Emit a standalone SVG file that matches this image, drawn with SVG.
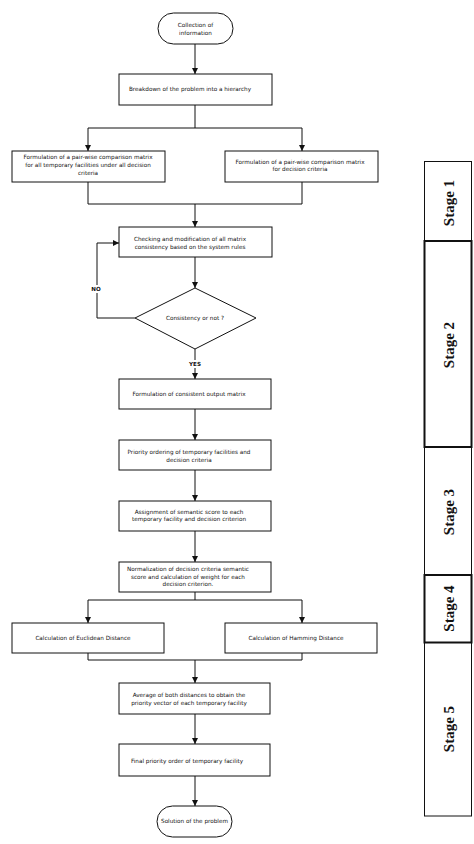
<svg xmlns="http://www.w3.org/2000/svg" width="474" height="844" viewBox="0 0 474 844">
<style>
.n{fill:#fff;stroke:#111;stroke-width:1}
.t{font-family:"DejaVu Sans",Verdana,sans-serif;font-size:5.7px;fill:#111;text-anchor:middle}
.lb{font-family:"DejaVu Sans",Verdana,sans-serif;font-size:5.6px;font-weight:bold;fill:#111;text-anchor:middle}
.c{fill:none;stroke:#111;stroke-width:1}
.s{fill:#fff;stroke:#111;stroke-width:1}
.sb{fill:#fff;stroke:#111;stroke-width:2}
.st{font-family:"Liberation Serif","Times New Roman",serif;font-size:15px;font-weight:bold;fill:#111;text-anchor:middle}
</style>
<defs>
<marker id="ah" markerUnits="userSpaceOnUse" markerWidth="7" markerHeight="6" refX="6" refY="3" orient="auto">
<path d="M0,0 L6,3 L0,6 z" fill="#111"/>
</marker>
</defs>
<rect width="474" height="844" fill="#fff"/>
<g id="connectors">
<path class="c" d="M195,44 V74" marker-end="url(#ah)"/>
<path class="c" d="M195,105 V128 M88,128 H302"/>
<path class="c" d="M88,128 V151" marker-end="url(#ah)"/>
<path class="c" d="M302,128 V151" marker-end="url(#ah)"/>
<path class="c" d="M88,182 V204 H302 V182"/>
<path class="c" d="M195,204 V227" marker-end="url(#ah)"/>
<path class="c" d="M195,257 V288" marker-end="url(#ah)"/>
<path class="c" d="M135,318 H97 V243 H119" marker-end="url(#ah)"/>
<path class="c" d="M195,349 V379" marker-end="url(#ah)"/>
<path class="c" d="M195,409 V440" marker-end="url(#ah)"/>
<path class="c" d="M195,470 V501" marker-end="url(#ah)"/>
<path class="c" d="M195,531 V562" marker-end="url(#ah)"/>
<path class="c" d="M195,592 V600 M88,600 H302"/>
<path class="c" d="M88,600 V623" marker-end="url(#ah)"/>
<path class="c" d="M302,600 V623" marker-end="url(#ah)"/>
<path class="c" d="M88,653 V660 H302 V653"/>
<path class="c" d="M195,660 V683" marker-end="url(#ah)"/>
<path class="c" d="M195,714 V744" marker-end="url(#ah)"/>
<path class="c" d="M195,776 V806" marker-end="url(#ah)"/>
<rect x="89" y="285" width="16" height="8" fill="#fff"/>
<text class="lb" x="96" y="291">NO</text>
<rect x="186" y="360" width="18" height="8" fill="#fff"/>
<text class="lb" x="195" y="366">YES</text>
</g>
<g id="n1"><rect class="n" x="158" y="13" width="75" height="31" rx="15.5"/>
<text class="t" x="195.5" y="27">Collection of</text><text class="t" x="195.5" y="35">information</text></g>
<g id="n2"><rect class="n" x="119" y="74" width="153" height="31"/>
<text class="t" x="190" y="91">Breakdown of the problem into a hierarchy</text></g>
<g id="n3"><rect class="n" x="12" y="151" width="153" height="31"/>
<text class="t" x="88" y="159">Formulation of a pair-wise comparison matrix</text>
<text class="t" x="88" y="167">for all temporary facilities under all decision</text>
<text class="t" x="88" y="174.5">criteria</text></g>
<g id="n4"><rect class="n" x="225" y="151" width="153" height="31"/>
<text class="t" x="300" y="163.5">Formulation of a pair-wise comparison matrix</text>
<text class="t" x="300" y="171">for decision criteria</text></g>
<g id="n5"><rect class="n" x="119" y="227" width="153" height="30"/>
<text class="t" x="190" y="240.5">Checking and modification of all matrix</text>
<text class="t" x="190" y="248.5">consistency based on the system rules</text></g>
<g id="n6"><polygon class="n" points="195,288 256,318 195,349 135,318"/>
<text class="t" x="195" y="320">Consistency or not ?</text></g>
<g id="n7"><rect class="n" x="119" y="379" width="152" height="30"/>
<text class="t" x="189" y="396">Formulation of consistent output matrix</text></g>
<g id="n8"><rect class="n" x="119" y="440" width="152" height="30"/>
<text class="t" x="189" y="454">Priority ordering of temporary facilities and</text>
<text class="t" x="189" y="461.5">decision criteria</text></g>
<g id="n9"><rect class="n" x="119" y="501" width="152" height="30"/>
<text class="t" x="189" y="513.5">Assignment of semantic score to each</text>
<text class="t" x="189" y="521">temporary facility and decision criterion</text></g>
<g id="n10"><rect class="n" x="119" y="562" width="152" height="30"/>
<text class="t" x="188" y="571">Normalization of decision criteria semantic</text>
<text class="t" x="188" y="578.5">score and calculation of weight for each</text>
<text class="t" x="188" y="586">decision criterion.</text></g>
<g id="n11"><rect class="n" x="12" y="623" width="152" height="30"/>
<text class="t" x="83" y="640">Calculation of Euclidean Distance</text></g>
<g id="n12"><rect class="n" x="225" y="623" width="152" height="30"/>
<text class="t" x="296" y="640">Calculation of Hamming Distance</text></g>
<g id="n13"><rect class="n" x="119" y="683" width="151" height="31"/>
<text class="t" x="189" y="697">Average of both distances to obtain the</text>
<text class="t" x="189" y="705">priority vector of each temporary facility</text></g>
<g id="n14"><rect class="n" x="119" y="744" width="151" height="32"/>
<text class="t" x="187" y="762.5">Final priority order of temporary facility</text></g>
<g id="n15"><rect class="n" x="157" y="806" width="75" height="31" rx="15.5"/>
<text class="t" x="194.5" y="823">Solution of the problem</text></g>
<g id="stages">
<rect class="s" x="424.5" y="161.5" width="47" height="80"/>
<rect class="s" x="424.5" y="447" width="47" height="128"/>
<rect class="s" x="424.5" y="642.5" width="47" height="173.5"/>
<rect class="sb" x="424.5" y="241" width="47" height="206"/>
<rect class="sb" x="424.5" y="575" width="47" height="67.5"/>
<text class="st" transform="translate(453.5,203) rotate(-90)">Stage 1</text>
<text class="st" transform="translate(453.5,345) rotate(-90)">Stage 2</text>
<text class="st" transform="translate(453.5,512) rotate(-90)">Stage 3</text>
<text class="st" transform="translate(453.5,608.5) rotate(-90)">Stage 4</text>
<text class="st" transform="translate(453.5,729) rotate(-90)">Stage 5</text>
</g>
</svg>
